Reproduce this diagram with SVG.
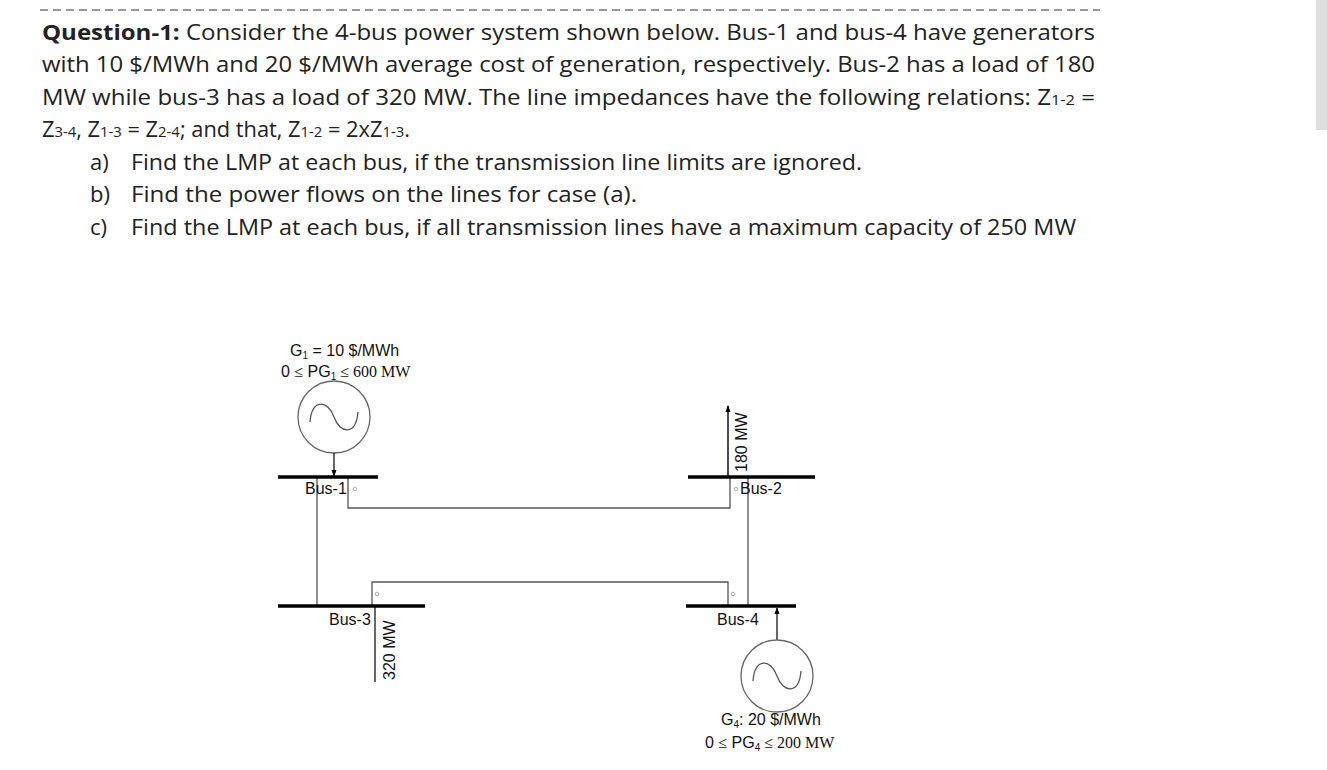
<svg xmlns="http://www.w3.org/2000/svg" width="1327" height="770" viewBox="0 0 1327 770">
<style>
.q{font-family:"Open Sans","Liberation Sans",sans-serif;font-size:22px;fill:#222}
.d{font-family:"Liberation Sans",sans-serif;font-size:16px;fill:#111}
.s{font-family:"Liberation Serif",serif;font-size:16px;fill:#111}
.bar{stroke:#000;stroke-width:3.5}
.ln{stroke:#555;stroke-width:1.3;fill:none}
.gen{fill:none;stroke:#666;stroke-width:1.3}
.sm{fill:none;stroke:#999;stroke-width:0.8}
</style>
<defs><marker id="ah" markerWidth="8" markerHeight="8" refX="6" refY="4" orient="auto" markerUnits="userSpaceOnUse"><path d="M0,1.5 L7,4 L0,6.5 Z" fill="#000"/></marker></defs>
<rect width="1327" height="770" fill="#fff"/>
<line x1="40" y1="10" x2="1100" y2="10" stroke="#333" stroke-width="1.2" stroke-dasharray="8,5"/>
<rect x="1316" y="0" width="11" height="130" fill="#ddd"/>
<g id="question">
<text class="q" x="42" y="40" textLength="1053" lengthAdjust="spacingAndGlyphs"><tspan font-weight="bold">Question-1:</tspan> Consider the 4-bus power system shown below. Bus-1 and bus-4 have generators</text>
<text class="q" x="42" y="72" textLength="1053" lengthAdjust="spacingAndGlyphs">with 10 $/MWh and 20 $/MWh average cost of generation, respectively. Bus-2 has a load of 180</text>
<text class="q" x="42" y="105" textLength="1053" lengthAdjust="spacingAndGlyphs">MW while bus-3 has a load of 320 MW. The line impedances have the following relations: Z<tspan font-size="15">1-2</tspan> =</text>
<text class="q" x="42" y="137" textLength="368" lengthAdjust="spacingAndGlyphs">Z<tspan font-size="15">3-4</tspan>, Z<tspan font-size="15">1-3</tspan> = Z<tspan font-size="15">2-4</tspan>; and that, Z<tspan font-size="15">1-2</tspan> = 2xZ<tspan font-size="15">1-3</tspan>.</text>
<text class="q" x="90" y="170">a)</text><text class="q" x="131" y="170" textLength="731" lengthAdjust="spacingAndGlyphs">Find the LMP at each bus, if the transmission line limits are ignored.</text>
<text class="q" x="90" y="202">b)</text><text class="q" x="131" y="202" textLength="506" lengthAdjust="spacingAndGlyphs">Find the power flows on the lines for case (a).</text>
<text class="q" x="90" y="235">c)</text><text class="q" x="131" y="235" textLength="945" lengthAdjust="spacingAndGlyphs">Find the LMP at each bus, if all transmission lines have a maximum capacity of 250 MW</text>
</g>
<g id="connectors">
<polyline class="ln" points="348,477 348,508 730,508 730,477"/>
<polyline class="ln" points="317,477 317,606"/>
<polyline class="ln" points="748,477 748,606"/>
<polyline class="ln" points="372,606 372,582 728,582 728,606"/>
<circle class="sm" cx="355" cy="489" r="1.8"/>
<circle class="sm" cx="736" cy="489" r="1.8"/>
<circle class="sm" cx="377" cy="594" r="1.8"/>
<circle class="sm" cx="733" cy="594" r="1.8"/>
</g>
<g id="gen1">
<text class="d" x="290" y="356">G<tspan font-size="10" dy="3">1</tspan><tspan dy="-3"> = 10 $/MWh</tspan></text>
<text class="d" x="281" y="377">0 <tspan class="s">≤</tspan> PG<tspan font-size="10" dy="3">1</tspan><tspan class="s" dy="-3"> ≤ 600 MW</tspan></text>
<circle class="gen" cx="334" cy="417" r="36"/>
<path d="M310,422 C312,398 328,400 334,417 C340,434 356,436 358,412" class="ln" stroke="#444"/>
<line x1="334" y1="453" x2="334" y2="476" stroke="#000" stroke-width="1.2" marker-end="url(#ah)"/>
</g>
<g id="bus1"><line class="bar" x1="278" y1="477" x2="378" y2="477"/><text class="d" x="305" y="494">Bus-1</text></g>
<g id="bus2"><line class="bar" x1="688" y1="477" x2="815" y2="477"/><text class="d" x="740" y="494">Bus-2</text>
<line x1="728" y1="477" x2="728" y2="406" stroke="#000" stroke-width="1.4" marker-end="url(#ah)"/>
<text class="d" transform="translate(747,472) rotate(-90)">180 MW</text></g>
<g id="bus3"><line class="bar" x1="278" y1="606" x2="425" y2="606"/><text class="d" x="329" y="625">Bus-3</text>
<line x1="375" y1="606" x2="375" y2="682" stroke="#000" stroke-width="1.2"/>
<text class="d" transform="translate(395,680) rotate(-90)">320 MW</text></g>
<g id="bus4"><line class="bar" x1="686" y1="606" x2="796" y2="606"/><text class="d" x="717" y="625">Bus-4</text>
<line x1="777" y1="640" x2="777" y2="608" stroke="#000" stroke-width="1.2" marker-end="url(#ah)"/></g>
<g id="gen4">
<circle class="gen" cx="777" cy="676" r="36"/>
<path d="M753,681 C755,657 771,659 777,676 C783,693 799,695 801,671" class="ln" stroke="#444"/>
<text class="d" x="721" y="725">G<tspan font-size="10" dy="3">4</tspan><tspan dy="-3">: 20 $/MWh</tspan></text>
<text class="d" x="705" y="748">0 <tspan class="s">≤</tspan> PG<tspan font-size="10" dy="3">4</tspan><tspan class="s" dy="-3"> ≤ 200 MW</tspan></text>
</g>
</svg>
